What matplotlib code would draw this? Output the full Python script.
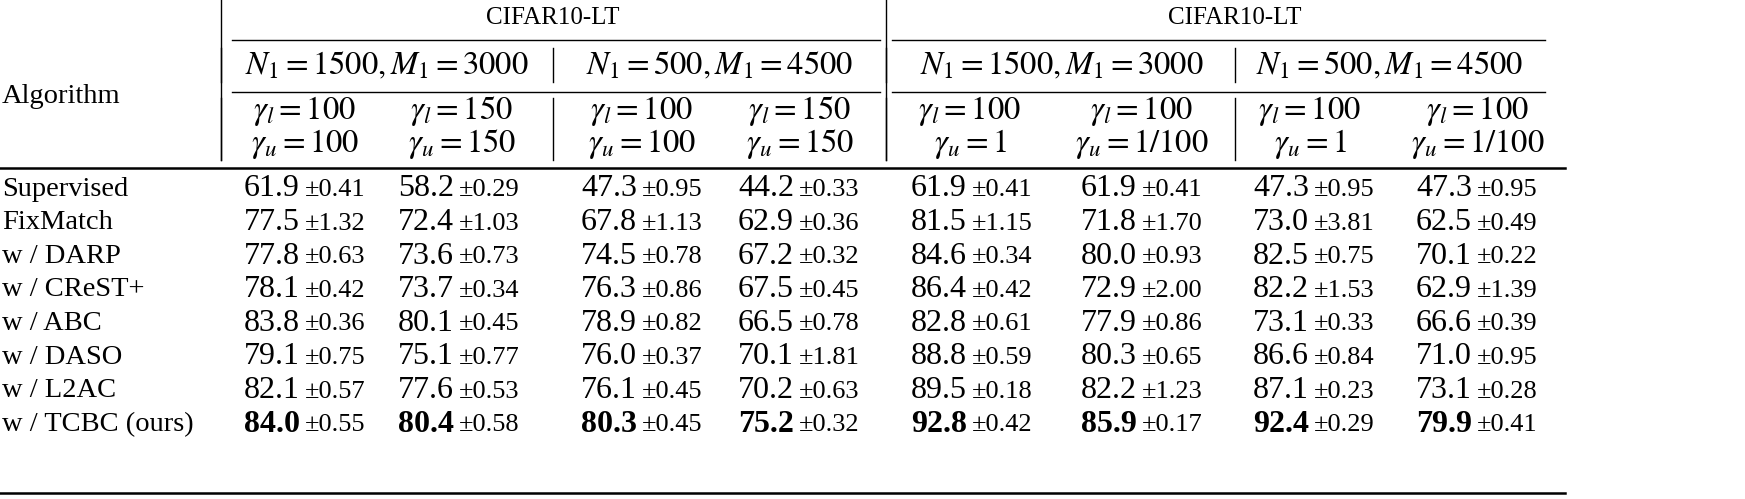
import matplotlib
matplotlib.use("Agg")
import matplotlib.pyplot as plt

plt.rcParams['font.family'] = ['Liberation Serif', 'DejaVu Serif']
plt.rcParams['mathtext.fontset'] = 'stix'

groups = ["CIFAR10-LT", "CIFAR10-LT"]
subgroups = [r"$N_1=1500, M_1=3000$", r"$N_1=500, M_1=4500$",
             r"$N_1=1500, M_1=3000$", r"$N_1=500, M_1=4500$"]
gl = ["100", "150", "100", "150", "100", "100", "100", "100"]
gu = ["100", "150", "100", "150", "1", "1/100", "1", "1/100"]
algorithms = ["Supervised", "FixMatch", "w / DARP", "w / CReST+", "w / ABC",
              "w / DASO", "w / L2AC", "w / TCBC (ours)"]
means = [
    ["61.9", "58.2", "47.3", "44.2", "61.9", "61.9", "47.3", "47.3"],
    ["77.5", "72.4", "67.8", "62.9", "81.5", "71.8", "73.0", "62.5"],
    ["77.8", "73.6", "74.5", "67.2", "84.6", "80.0", "82.5", "70.1"],
    ["78.1", "73.7", "76.3", "67.5", "86.4", "72.9", "82.2", "62.9"],
    ["83.8", "80.1", "78.9", "66.5", "82.8", "77.9", "73.1", "66.6"],
    ["79.1", "75.1", "76.0", "70.1", "88.8", "80.3", "86.6", "71.0"],
    ["82.1", "77.6", "76.1", "70.2", "89.5", "82.2", "87.1", "73.1"],
    ["84.0", "80.4", "80.3", "75.2", "92.8", "85.9", "92.4", "79.9"],
]
stds = [
    ["0.41", "0.29", "0.95", "0.33", "0.41", "0.41", "0.95", "0.95"],
    ["1.32", "1.03", "1.13", "0.36", "1.15", "1.70", "3.81", "0.49"],
    ["0.63", "0.73", "0.78", "0.32", "0.34", "0.93", "0.75", "0.22"],
    ["0.42", "0.34", "0.86", "0.45", "0.42", "2.00", "1.53", "1.39"],
    ["0.36", "0.45", "0.82", "0.78", "0.61", "0.86", "0.33", "0.39"],
    ["0.75", "0.77", "0.37", "1.81", "0.59", "0.65", "0.84", "0.95"],
    ["0.57", "0.53", "0.45", "0.63", "0.18", "1.23", "0.23", "0.28"],
    ["0.55", "0.58", "0.45", "0.32", "0.42", "0.17", "0.29", "0.41"],
]
bold_row = 7

W, H = 1745, 499
fig = plt.figure(figsize=(W / 100, H / 100), dpi=100)
ax = fig.add_axes([0, 0, 1, 1])
ax.set_xlim(0, W)
ax.set_ylim(H, 0)
ax.axis('off')

fs_lab = 20.5
fs_grp = 18
fs_math = 23.5
fs_mean = 23
fs_s = 19
col_c = [303, 457, 640, 797, 970, 1140, 1312, 1475]
hdr_c = [305, 462, 642, 800, 970, 1142, 1310, 1478]
grp_c = [553, 1235]
sub_c = [387, 720, 1062, 1390]

for g, x in zip(groups, grp_c):
    ax.text(x, 18, g, ha='center', va='center', fontsize=fs_grp)
for s, x in zip(subgroups, sub_c):
    ax.text(x, 66, s, ha='center', va='center', fontsize=fs_math)
for i, x in enumerate(hdr_c):
    ax.text(x, 111, r"$\gamma_l=%s$" % gl[i], ha='center', va='center', fontsize=fs_math)
    ax.text(x, 144, r"$\gamma_u=%s$" % gu[i], ha='center', va='center', fontsize=fs_math)
ax.text(2, 96, "Algorithm", ha='left', va='center', fontsize=fs_lab)

# vertical rules
ax.plot([221, 221], [0, 160], color='k', lw=1)
ax.plot([886, 886], [0, 160], color='k', lw=1)
for x in [221, 553, 886, 1235]:
    ax.plot([x, x], [48, 82], color='k', lw=1)
for x in [221, 553, 886, 1235]:
    ax.plot([x, x], [98, 160], color='k', lw=1)
# horizontal rules
for y in [40, 92]:
    ax.plot([232, 880], [y, y], color='k', lw=1)
    ax.plot([892, 1545], [y, y], color='k', lw=1)
ax.plot([0, 1565], [168, 168], color='k', lw=1.8)
ax.plot([0, 1565], [493, 493], color='k', lw=1.8)

y0, dy = 189, 33.6
for r, alg in enumerate(algorithms):
    y = y0 + r * dy
    ax.text(2, y, alg, ha='left', va='center', fontsize=fs_lab)
    for c, x in enumerate(col_c):
        ax.text(x - 3, y, means[r][c], ha='right', va='center', fontsize=fs_mean,
                fontweight='bold' if r == bold_row else 'normal')
        ax.text(x + 2, y + 1, "±" + stds[r][c], ha='left', va='center', fontsize=fs_s)

fig.savefig("out.png", dpi=100)
